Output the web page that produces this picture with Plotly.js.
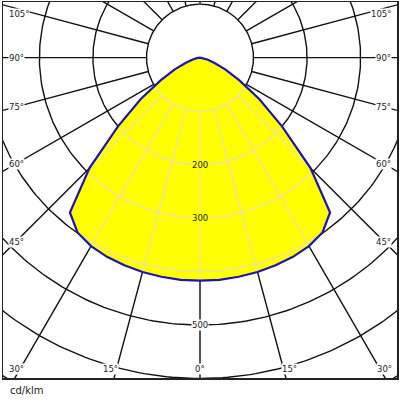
<!DOCTYPE html>
<html>
<head>
<meta charset="utf-8">
<script src="https://cdn.plot.ly/plotly-3.0.1.min.js"></script>
<style>
html, body { margin:0; padding:0; background:#fff; }
#plot { width:400px; height:400px; }
</style>
</head>
<body>
<div id="plot"></div>
<script>
// luminous intensity (cd/klm), gamma from nadir, symmetric both sides
var gammaDeg  = [0, 5, 10, 15, 20, 25, 30, 35, 40, 45, 50, 55, 60, 65, 70, 75, 80, 85, 90];
var intensity = [417, 417, 416, 415, 413, 411, 407, 399, 378, 292, 200, 135, 85, 52, 28, 14, 6, 2, 0];
var gridRadii = [100, 200, 300, 400, 500, 600, 700];
var radialLabels = [200, 300, 500];
var spokeStep = 15;
var unitLabel = 'cd/klm';

var xRange = [-368, 368], yRange = [-599, 104];
var W = 400, H = 400, mL = 3, mR = 3, mT = 2, mB = 22;
var pxX = (xRange[1] - xRange[0]) / (W - mL - mR);   // cd per pixel
var pxY = (yRange[1] - yRange[0]) / (H - mT - mB);
var innerR = gridRadii[0], outerR = 900;

function rad(d) { return d * Math.PI / 180; }
function toXY(r, g) { return [r * Math.sin(rad(g)), -r * Math.cos(rad(g))]; }

// radius of the drawn curve along direction g (straight chords between data points)
function boundary(g) {
  var a = Math.abs(g), n = gammaDeg.length;
  if (a >= gammaDeg[n - 1]) return 0;
  var i = 0;
  while (i < n - 2 && a > gammaDeg[i + 1]) i++;
  var g1 = gammaDeg[i], g2 = gammaDeg[i + 1], r1 = intensity[i], r2 = intensity[i + 1];
  var den = r1 * Math.sin(rad(a - g1)) + r2 * Math.sin(rad(g2 - a));
  if (den <= 0) return 0;
  return r1 * r2 * Math.sin(rad(g2 - g1)) / den;
}

// photometric curve
var cx = [], cy = [];
for (var i = gammaDeg.length - 1; i > 0; i--) {
  var p = toXY(intensity[i], -gammaDeg[i]); cx.push(p[0]); cy.push(p[1]);
}
for (var i = 0; i < gammaDeg.length; i++) {
  var p = toXY(intensity[i], gammaDeg[i]); cx.push(p[0]); cy.push(p[1]);
}

// spoke angles
var spokes = [];
for (var a = -180 + spokeStep; a <= 180; a += spokeStep) spokes.push(a);

// black grid (full)
var bcx = [], bcy = [];
gridRadii.forEach(function (R) {
  for (var g = 0; g <= 360; g += 1) { var p = toXY(R, g); bcx.push(p[0]); bcy.push(p[1]); }
  bcx.push(null); bcy.push(null);
});
var bsx = [], bsy = [], vsx = [], vsy = [];
spokes.forEach(function (a) {
  var p1 = toXY(innerR, a), p2 = toXY(outerR, a);
  if (a === 0 || a === 180) { vsx.push(p1[0], p2[0], null); vsy.push(p1[1], p2[1], null); }
  else { bsx.push(p1[0], p2[0], null); bsy.push(p1[1], p2[1], null); }
});

// light grid, only inside the curve
var lcx = [], lcy = [];
gridRadii.forEach(function (R) {
  for (var g = -180; g <= 180; g += 0.5) {
    if (boundary(g) > R) { var p = toXY(R, g); lcx.push(p[0]); lcy.push(p[1]); }
    else { lcx.push(null); lcy.push(null); }
  }
  lcx.push(null); lcy.push(null);
});
var lsx = [], lsy = [];
spokes.forEach(function (a) {
  var rb = boundary(a);
  if (rb > innerR) {
    var p1 = toXY(innerR, a), p2 = toXY(rb, a);
    lsx.push(p1[0], p2[0], null); lsy.push(p1[1], p2[1], null);
  }
});

var traces = [
  { x: bcx, y: bcy, mode: 'lines', line: { color: '#111', width: 1.4 }, hoverinfo: 'skip' },
  { x: bsx, y: bsy, mode: 'lines', line: { color: '#111', width: 1.4 }, hoverinfo: 'skip' },
  { x: vsx, y: vsy, mode: 'lines', line: { color: '#555', width: 2 }, hoverinfo: 'skip' },
  { x: cx, y: cy, mode: 'lines', fill: 'toself', fillcolor: '#ffff00', line: { width: 0, color: '#ffff00' }, hoverinfo: 'skip' },
  { x: lcx, y: lcy, mode: 'lines', line: { color: 'rgb(238,228,150)', width: 1.5 }, hoverinfo: 'skip' },
  { x: lsx, y: lsy, mode: 'lines', line: { color: 'rgb(238,228,150)', width: 1.5 }, hoverinfo: 'skip' },
  { x: cx, y: cy, mode: 'lines', line: { color: '#1c14b4', width: 2.2 }, hoverinfo: 'skip' }
];

var font = { family: 'DejaVu Sans, sans-serif', size: 8.5, color: '#222' };
var annotations = [];

// angle labels where spokes leave the frame
for (var a = 0; a <= 180; a += spokeStep) {
  [-1, 1].forEach(function (s) {
    if (s < 0 && (a === 0 || a === 180)) return;
    var dx = s * Math.sin(rad(a)), dy = -Math.cos(rad(a));
    var tx = Math.abs(dx) > 1e-9 ? xRange[1] / Math.abs(dx) : Infinity;
    var ty = dy < 0 ? yRange[0] / dy : (dy > 0 ? yRange[1] / dy : Infinity);
    if (tx < ty) {
      var xi = xRange[1] - 12 * pxX;
      var yl = Math.min(xi / Math.abs(dx) * dy, yRange[1] - 12 * pxY);
      annotations.push({ x: s * (xRange[1] - 5 * pxX), y: yl, text: a + '°', showarrow: false,
        xanchor: s < 0 ? 'left' : 'right', yanchor: 'middle', bgcolor: '#fff', borderpad: 0, font: font });
    } else if (dy < 0) {
      var yi = yRange[0] - 12 * pxY;
      var xl = yi / dy * dx, lim = xRange[1] - 13 * pxX;
      xl = Math.max(-lim, Math.min(lim, xl));
      annotations.push({ x: xl, y: yRange[0] + 9 * pxY, text: a + '°', showarrow: false,
        xanchor: 'center', yanchor: 'middle', bgcolor: '#fff', borderpad: 0, font: font });
    }
  });
}

// intensity labels on the nadir spoke
radialLabels.forEach(function (R) {
  annotations.push({ x: 0, y: -R, text: String(R), showarrow: false, xanchor: 'center', yanchor: 'middle',
    bgcolor: boundary(0) > R ? '#ffff00' : '#fff', borderpad: 0, font: font });
});

annotations.push({ xref: 'paper', yref: 'paper', x: 5 / (W - mL - mR), y: -12 / (H - mT - mB),
  xanchor: 'left', yanchor: 'middle', text: unitLabel, showarrow: false,
  font: { family: 'DejaVu Sans, sans-serif', size: 10, color: '#222' } });

var axisBase = { showgrid: false, zeroline: false, showticklabels: false, ticks: '',
  showline: true, mirror: true, linecolor: '#222', linewidth: 1.5, fixedrange: true };

var layout = {
  width: W, height: H,
  margin: { l: mL, r: mR, t: mT, b: mB, pad: 0 },
  paper_bgcolor: '#fff', plot_bgcolor: '#fff',
  showlegend: false,
  xaxis: Object.assign({ range: xRange }, axisBase),
  yaxis: Object.assign({ range: yRange }, axisBase),
  annotations: annotations
};

Plotly.newPlot('plot', traces, layout, { displayModeBar: false, staticPlot: true });
</script>
</body>
</html>
